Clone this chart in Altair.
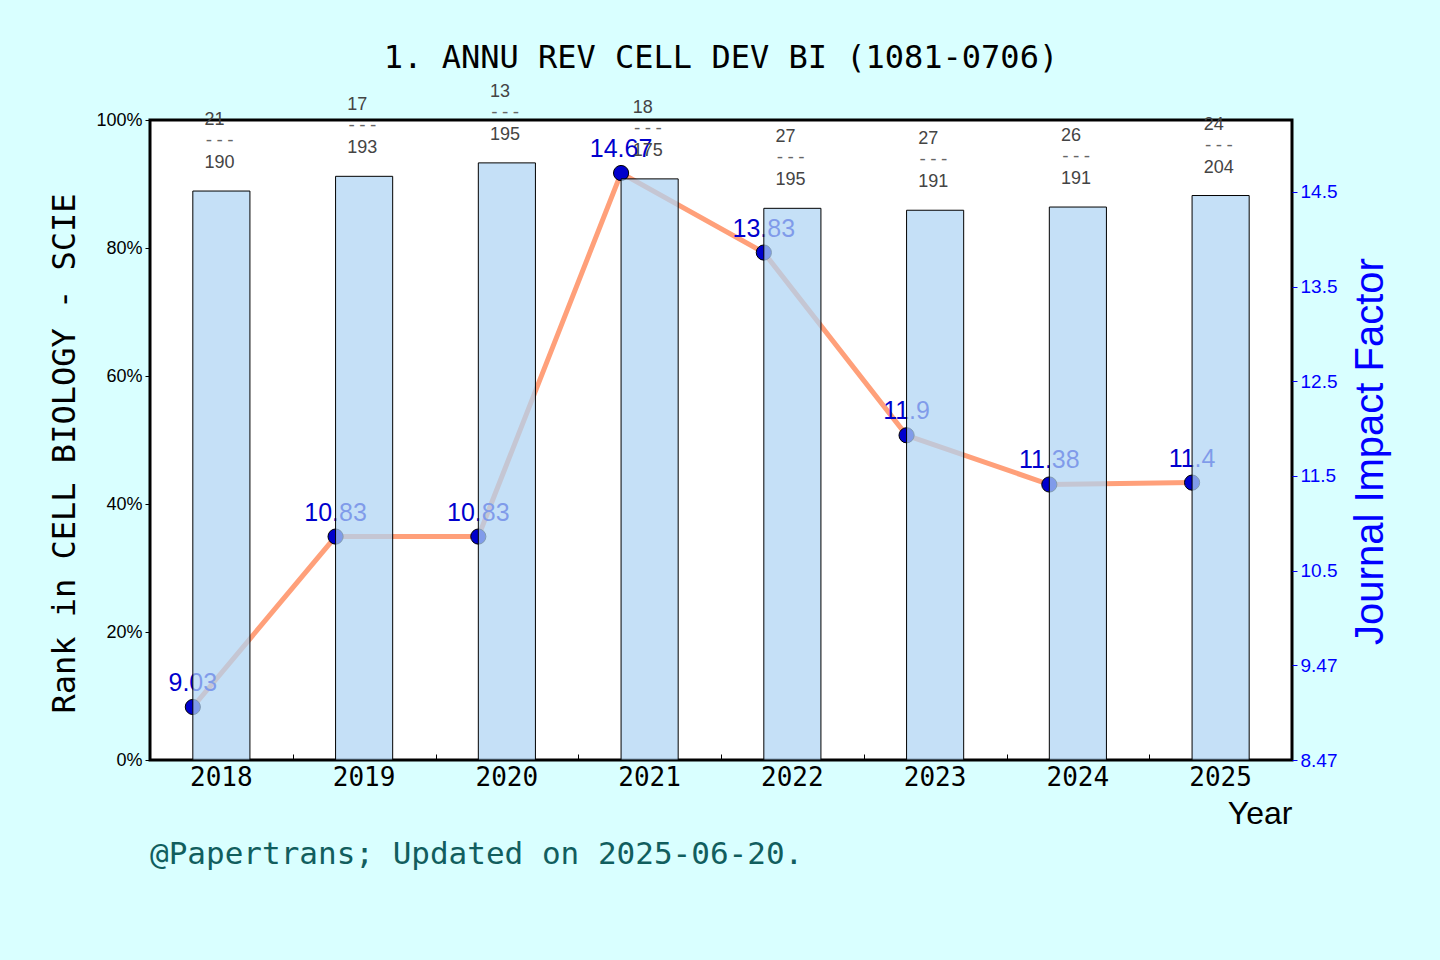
import altair as alt
import pandas as pd

years = ["2018", "2019", "2020", "2021", "2022", "2023", "2024", "2025"]
impact = [9.03, 10.83, 10.83, 14.67, 13.83, 11.9, 11.38, 11.4]
impact_text = ["9.03", "10.83", "10.83", "14.67", "13.83", "11.9", "11.38", "11.4"]
rank = [21, 17, 13, 18, 27, 27, 26, 24]
total = [190, 193, 195, 175, 195, 191, 191, 204]
pct = [0.889, 0.912, 0.933, 0.908, 0.862, 0.859, 0.864, 0.882]
if_ticks = [8.47, 9.47, 10.47, 11.47, 12.47, 13.47, 14.47]
pct_ticks = [0, 0.2, 0.4, 0.6, 0.8, 1.0]

df = pd.DataFrame({
    "year": years,
    "impact": impact,
    "impact_text": impact_text,
    "pct": pct,
    "rank": [str(r) for r in rank],
    "total": [str(t) for t in total],
    "dash": ["---"] * len(years),
})

MONO = "DejaVu Sans Mono"
SANS = "Liberation Sans"

xscale = alt.Scale(type="band", paddingInner=0, paddingOuter=0)

x_main_axis = alt.Axis(
    orient="bottom", ticks=False, domain=False, labelFont=MONO, labelFontSize=26,
    labelColor="black", labelPadding=4, labelAngle=0, title="Year", titleFont=SANS,
    titleFontSize=32, titleFontWeight="normal", titleAnchor="end", titleAlign="right",
    titleColor="black", titlePadding=8,
)
x_tick_axis = alt.Axis(
    orient="bottom", offset=-6, labels=False, domain=False, ticks=True, tickSize=6,
    tickBand="extent", tickColor="black", tickWidth=1, title=None,
)

pct_scale = alt.Scale(domain=[0, 1], nice=False, zero=True)
if_scale = alt.Scale(domain=[8.47, 15.23], nice=False, zero=False)

pct_axis = alt.Axis(
    orient="left", values=pct_ticks, format=".0%", domain=False, grid=False,
    tickSize=5, tickColor="black", labelFont=SANS, labelFontSize=18, labelColor="black",
    labelPadding=3, title="Rank in CELL BIOLOGY - SCIE", titleFont=MONO, titleFontSize=32,
    titleFontWeight="normal", titleColor="black", titlePadding=14, titleY=333,
)
if_axis = alt.Axis(
    orient="right", values=if_ticks, format=".3", domain=False, grid=False,
    tickSize=5, tickColor="blue", labelFont=SANS, labelFontSize=19, labelColor="blue",
    labelPadding=3, title="Journal Impact Factor", titleFont=SANS, titleFontSize=40,
    titleFontWeight="normal", titleColor="blue", titleAngle=270, titleBaseline="top",
    titlePadding=14, titleY=331,
)

base = alt.Chart(df)
x_if = alt.X("year:O", scale=xscale, bandPosition=0.3, axis=x_tick_axis, sort=years)
y_if = alt.Y("impact:Q", scale=if_scale, axis=if_axis)

line = base.mark_line(color="#ffa07a", strokeWidth=5).encode(x=x_if, y=y_if)
points = base.mark_point(filled=True, fill="#0000cd", stroke="black", strokeWidth=1,
                         size=230, opacity=1, shape="circle").encode(x=x_if, y=y_if)
if_text = base.mark_text(font=SANS, fontSize=25, color="#0000cd", align="center",
                         baseline="alphabetic", dy=-16).encode(
    x=x_if, y=y_if, text="impact_text:N")
right_group = alt.layer(line, points, if_text)

x_bar = alt.X("year:O", scale=xscale, axis=x_main_axis, sort=years)
y_bar = alt.Y("pct:Q", scale=pct_scale, axis=pct_axis)

bars = base.mark_bar(width=alt.RelativeBandSize(0.4), color="#afd4f4", fillOpacity=0.73,
                     stroke="black", strokeWidth=1, strokeOpacity=1).encode(x=x_bar, y=y_bar)
rank_text = base.mark_text(font=SANS, fontSize=18, color="#444444", align="left",
                           baseline="alphabetic", dx=-17, dy=-66).encode(
    x=x_bar, y=y_bar, text="rank:N")
dash_text = base.mark_text(font=MONO, fontSize=18, color="#666666", align="left",
                           baseline="middle", dx=-18, dy=-51).encode(
    x=x_bar, y=y_bar, text="dash:N")
total_text = base.mark_text(font=SANS, fontSize=18, color="#444444", align="left",
                            baseline="alphabetic", dx=-17, dy=-23).encode(
    x=x_bar, y=y_bar, text="total:N")
left_group = alt.layer(bars, rank_text, dash_text, total_text)

footer = alt.Chart(pd.DataFrame({"t": ["@Papertrans; Updated on 2025-06-20."]})).mark_text(
    font=MONO, fontSize=31, color="#115e5e", align="left", baseline="middle"
).encode(x=alt.value(0), y=alt.value(735), text="t:N")

chart = (
    alt.layer(right_group, left_group, footer)
    .resolve_scale(y="independent")
    .resolve_axis(x="independent", y="independent")
    .properties(
        width=1142, height=640,
        title=alt.TitleParams("1. ANNU REV CELL DEV BI (1081-0706)", font=MONO, fontSize=32,
                              fontWeight="normal", color="black", anchor="middle",
                              frame="group", offset=8),
        autosize=alt.AutoSizeParams(type="none"),
        padding={"left": 150, "top": 120, "right": 148, "bottom": 200},
        background="#d9ffff",
    )
    .configure_view(fill="white", stroke="black", strokeWidth=3)
)

chart.save("out.html", embed_options={"renderer": "svg", "actions": False})
